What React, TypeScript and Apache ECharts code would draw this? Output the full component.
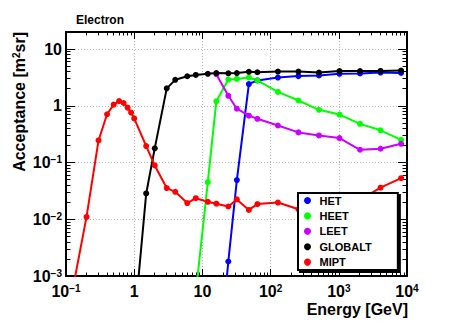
import React, { useEffect, useRef } from "react";
import * as echarts from "echarts";

const FONT = '"Liberation Sans", Arial, Helvetica, sans-serif';

const seriesNames = ["HET", "HEET", "LEET", "GLOBALT", "MIPT"];
const seriesColors = ["#0000ff", "#00ff00", "#cc00ff", "#000000", "#ff0000"];

const hetEnergy = [16, 24, 32, 48, 64, 128, 256, 512, 1024, 2048, 4096, 8192];
const hetAcc = [0.00001, 0.0018, 0.049, 2.42, 2.8, 3.15, 3.34, 3.42, 3.66, 3.71, 3.86, 3.8];

const heetEnergy = [8, 12, 16, 24, 32, 48, 64, 128, 256, 512, 1024, 2048, 4096, 8192];
const heetAcc = [0.0005, 0.045, 1.2, 2.9, 2.98, 3.15, 2.8, 1.76, 1.24, 0.85, 0.7, 0.48, 0.37, 0.25];

const leetEnergy = [16, 24, 32, 48, 64, 128, 256, 512, 1024, 2048, 4096, 8192];
const leetAcc = [3.6, 1.5, 0.89, 0.67, 0.59, 0.45, 0.34, 0.3, 0.27, 0.168, 0.175, 0.214];

const globaltEnergy = [1, 1.5, 2, 3, 4, 6, 8, 12, 16, 24, 32, 48, 64, 128, 256, 512, 1024, 2048, 4096, 8192];
const globaltAcc = [0.00014, 0.0285, 0.178, 2.03, 2.87, 3.32, 3.5, 3.66, 3.77, 3.74, 3.77, 3.97, 3.9, 4.02, 4.02, 3.85, 4.1, 4.1, 4.12, 4.18];

const miptEnergy = [0.1, 0.2, 0.3, 0.4, 0.5, 0.6, 0.7, 0.8, 0.9, 1.0, 1.5, 2, 3, 4, 6, 8, 12, 16, 24, 32, 48, 64, 128, 256, 512, 1024, 2048, 4096, 8192];
const miptAcc = [0.00014, 0.011, 0.245, 0.71, 1.05, 1.21, 1.12, 0.93, 0.76, 0.6, 0.195, 0.089, 0.0355, 0.0305, 0.0193, 0.0235, 0.0203, 0.0188, 0.0168, 0.0224, 0.0146, 0.0185, 0.0197, 0.015, 0.017, 0.02, 0.022, 0.036, 0.053];

const energies = [hetEnergy, heetEnergy, leetEnergy, globaltEnergy, miptEnergy];
const acceptances = [hetAcc, heetAcc, leetAcc, globaltAcc, miptAcc];

const xMin = 0.1;
const xMax = 10000;
const yMin = 0.001;
const yMax = 20;

const powerLabel = (v: number) => {
  const e = Math.log10(v);
  const r = Math.round(e);
  if (Math.abs(e - r) > 1e-6) return "";
  if (r === 0) return "1";
  if (r === 1) return "10";
  return "10{sup|" + (r < 0 ? "\u2212" + -r : String(r)) + "}";
};

const labelRich = {
  sup: { fontFamily: FONT, fontWeight: "bold", fontSize: 10, color: "#000", verticalAlign: "top" },
};

function makeAxis(kind: "x" | "y", main: boolean) {
  const isX = kind === "x";
  return {
    type: "log",
    logBase: 10,
    min: isX ? xMin : yMin,
    max: isX ? xMax : yMax,
    position: isX ? (main ? "bottom" : "top") : main ? "left" : "right",
    axisLine: { show: true, onZero: false, lineStyle: { color: "#000", width: 2 } },
    axisTick: { show: true, inside: true, length: isX ? 7 : 9, lineStyle: { color: "#000", width: 1 } },
    minorTick: { show: true, splitNumber: 9, length: isX ? 3.5 : 4.5, lineStyle: { color: "#000", width: 1 } },
    axisLabel: main
      ? {
          show: true,
          interval: 0,
          formatter: powerLabel,
          margin: isX ? 7 : 4,
          color: "#000",
          fontFamily: FONT,
          fontWeight: "bold",
          fontSize: 16,
          rich: labelRich,
        }
      : { show: false },
    splitLine: main
      ? { show: true, lineStyle: { color: "#b4b4b4", type: [1, 2], width: 1 } }
      : { show: false },
  };
}

export default function App() {
  const ref = useRef<HTMLDivElement>(null);

  useEffect(() => {
    document.body.style.margin = "0";
    if (!ref.current) return;
    const chart = echarts.init(ref.current, undefined, { renderer: "svg" });

    const series = seriesNames.map((name, i) => ({
      name,
      type: "line",
      data: energies[i].map((e, j) => [e, acceptances[i][j]]),
      symbol: "circle",
      symbolSize: 6,
      showAllSymbol: true,
      clip: true,
      lineStyle: { color: seriesColors[i], width: 2 },
      itemStyle: { color: seriesColors[i] },
      emphasis: { disabled: true },
    }));

    chart.setOption({
      animation: false,
      backgroundColor: "#ffffff",
      grid: { left: 66, right: 67, top: 32, bottom: 45, containLabel: false },
      xAxis: [makeAxis("x", true), makeAxis("x", false)],
      yAxis: [makeAxis("y", true), makeAxis("y", false)],
      legend: {
        data: seriesNames,
        orient: "vertical",
        left: 298,
        top: 193,
        icon: "circle",
        itemWidth: 14,
        itemHeight: 7,
        itemGap: 2.4,
        padding: [1, 26, 1.5, 6],
        backgroundColor: "#ffffff",
        borderColor: "#000",
        borderWidth: 2,
        shadowColor: "#000",
        shadowOffsetX: 2,
        shadowOffsetY: 2,
        shadowBlur: 0,
        selectedMode: false,
        textStyle: { fontFamily: FONT, fontWeight: "bold", fontSize: 11, color: "#000", lineHeight: 13 },
      },
      graphic: [
        {
          type: "text",
          left: 76,
          top: 14,
          style: { text: "Electron", font: `bold 12px ${FONT}`, fill: "#000" },
        },
        {
          type: "text",
          right: 66,
          top: 301,
          style: { text: "Energy [GeV]", font: `bold 16px ${FONT}`, fill: "#000" },
        },
        {
          type: "text",
          x: 19,
          y: 32,
          rotation: Math.PI / 2,
          style: {
            text: "Acceptance [m{sup|2}sr]",
            font: `bold 16px ${FONT}`,
            fill: "#000",
            align: "right",
            verticalAlign: "middle",
            rich: {
              sup: { font: `bold 10px ${FONT}`, fill: "#000", verticalAlign: "top" },
            },
          },
        },
      ],
      series,
    });

    return () => chart.dispose();
  }, []);

  return <div ref={ref} style={{ width: 474, height: 321 }} />;
}
